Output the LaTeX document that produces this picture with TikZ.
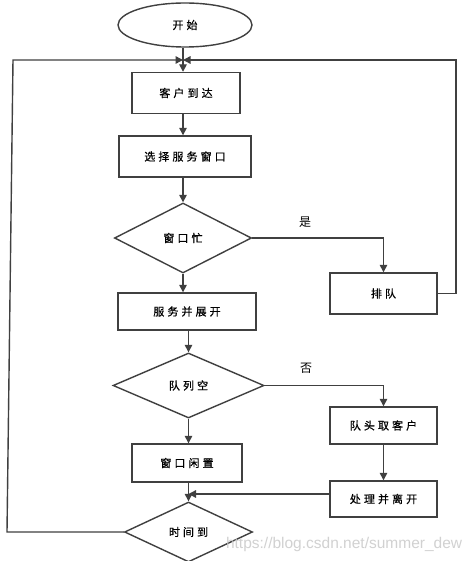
\documentclass[tikz,border=0pt]{standalone}
\usepackage{fontspec}
\newfontfamily\cjk[LetterSpace=28,FakeBold=0.6]{Noto Sans CJK SC}
\newfontfamily\cjklab{Noto Sans CJK SC}
\setsansfont{Liberation Sans}
\usetikzlibrary{shapes.geometric,arrows.meta}
\begin{document}
\begin{tikzpicture}[x=1pt,y=-1pt,
  line width=1.4pt,
  color=black!75,
  txt/.style={font=\cjk\fontsize{11}{13}\selectfont, text=black},
  box/.style={draw, rectangle, inner sep=0pt, txt},
  dia/.style={draw, diamond, inner sep=0pt, txt},
  arr/.style={-{Triangle[length=7.5pt,width=7.5pt]}},
  lab/.style={font=\cjklab\fontsize{12}{14}\selectfont, text=black}
]
\useasboundingbox (0,0) rectangle (472,561);
\clip (0,0) rectangle (472,561);
\fill[white] (0,0) rectangle (472,561);

\node[draw, ellipse, minimum width=134pt, minimum height=44pt, inner sep=0pt, txt] (start) at (185,25) {开始};
\node[box, minimum width=108pt, minimum height=41pt] (b1) at (186,93) {客户到达};
\node[box, minimum width=132pt, minimum height=41pt] (b2) at (185,156.5) {选择服务窗口};
\node[dia, minimum width=137pt, minimum height=70pt] (d1) at (183,238) {窗口忙};
\node[box, minimum width=107pt, minimum height=41pt] (q) at (383.5,293.5) {排队};
\node[box, minimum width=138pt, minimum height=37pt] (b3) at (187,311.5) {服务并展开};
\node[dia, minimum width=151pt, minimum height=65pt] (d2) at (188.5,385.5) {队列空};
\node[box, minimum width=107pt, minimum height=37pt] (b5) at (383.5,425.5) {队头取客户};
\node[box, minimum width=107pt, minimum height=36pt] (b6) at (383.5,499) {处理并离开};
\node[box, minimum width=110pt, minimum height=38pt] (b4) at (187,463) {窗口闲置};
\node[dia, minimum width=128pt, minimum height=60pt] (d3) at (188.5,532) {时间到};

\node[lab] (yes) at (305,222) {是};
\node[lab] (no) at (306,368) {否};

\coordinate (top) at (183,60);
\coordinate (rc) at (456,60);
\coordinate (lt) at (13,60);
\coordinate (lb) at (7,532);
\coordinate (j) at (188.5,494);

% main column
\draw[arr] (start.south -| top) -- (b1.north -| top);
\draw[arr] (b1.south -| top) -- (b2.north -| top);
\draw[arr] (b2.south -| top) -- (d1.north);
\draw[arr] (d1.south) -- (d1.south |- b3.north);
\draw[arr] (b3.south -| d2.north) -- (d2.north);
\draw[arr] (d2.south) -- (d2.south |- b4.north);
\draw[arr] (b4.south -| d3.north) -- (d3.north);

% yes branch
\draw[arr] (d1.east) -- (q.north |- d1.east) -- (q.north);
\draw[arr] (q.east) -- (q.east -| rc) -- (rc) -- (top);

% no branch
\draw[arr] (d2.east) -- (b5.north |- d2.east) -- (b5.north);
\draw[arr] (b5.south) -- (b6.north);
\draw[arr] (b6.west |- j) -- (j);

% loop back
\draw[arr] (d3.west) -- (lb) -- (lt) -- (top);

% watermark
\node[font=\sffamily\fontsize{15.5}{17}\selectfont, text=gray!45, opacity=0.8, anchor=base west] (wm) at (222,548) {https://blog.csdn.net/summer\_dew};
\end{tikzpicture}
\end{document}
